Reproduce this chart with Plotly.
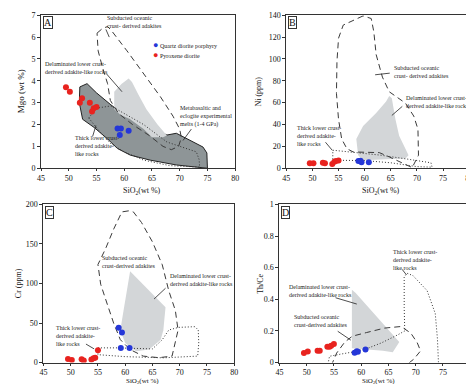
import plotly.graph_objects as go

# ---------------- sample data ----------------
red_sio2 = [49.5, 50.2, 52.0, 52.4, 53.8, 54.2, 54.5, 55.0]
blue_sio2 = [58.8, 59.4, 59.2, 60.8]

red_mgo = [3.7, 3.5, 3.0, 3.2, 3.0, 2.6, 2.75, 2.8]
blue_mgo = [1.82, 1.82, 1.52, 1.71]

red_ni = [4.5, 4.5, 5.0, 4.5, 3.8, 6.0, 6.6, 7.0]
blue_ni = [6.6, 5.4, 6.8, 5.4]

red_cr = [4.5, 3.3, 4.2, 2.5, 4.0, 5.5, 6.0, 15.7]
blue_cr = [44, 38, 18.5, 18.5]

red_thce = [0.06, 0.07, 0.075, 0.075, 0.10, 0.10, 0.107, 0.117]
blue_thce = [0.062, 0.068, 0.072, 0.082]

x_ticks = [45, 50, 55, 60, 65, 70, 75, 80]
mgo_ticks = [0, 1, 2, 3, 4, 5, 6, 7]
ni_ticks = [0, 20, 40, 60, 80, 100, 120, 140]
cr_ticks = [0, 50, 100, 150, 200]
thce_ticks = [0, 0.2, 0.4, 0.6, 0.8, 1]

# ---------------- field outlines ----------------
# Panel A
a_dark_x = [52.0, 53.3, 55.0, 57.6, 60.5, 63.5, 65.9, 67.7, 69.4, 74.2, 74.9, 75.0, 69.4, 64.7, 61.1, 58.8, 57.0, 54.6, 52.5, 51.9, 52.0]
a_dark_y = [3.72, 3.87, 3.45, 2.9, 2.35, 2.0, 1.7, 1.52, 1.6, 0.97, 0.7, 0.0, 0.15, 0.37, 0.6, 0.9, 1.34, 1.86, 2.24, 3.0, 3.72]
a_light_x = [60.8, 61.4, 62.5, 64.0, 66.0, 67.7, 67.0, 65.0, 63.5, 61.0, 59.3, 58.2, 58.2, 59.5, 60.8]
a_light_y = [4.1, 3.95, 3.4, 2.7, 2.0, 1.5, 1.42, 1.42, 1.8, 2.25, 2.45, 2.7, 3.5, 3.85, 4.1]
a_dash_x = [55.1, 56.1, 57.0, 57.6, 60.5, 63.5, 66.5, 68.8, 70.0, 70.3, 69.8, 68.5, 67.0, 64.5, 61.5, 59.0, 57.5, 57.0, 56.1, 55.3, 55.1]
a_dash_y = [6.18, 6.4, 6.48, 6.33, 5.37, 4.32, 3.28, 2.38, 1.79, 1.4, 1.0, 0.85, 1.0, 1.5, 2.0, 2.5, 3.1, 3.87, 4.6, 5.37, 6.18]
a_dot_x = [53.6, 55.0, 57.6, 60.5, 63.5, 67.7, 70.5, 73.0, 73.5, 73.6, 68.2, 63.5, 60.0, 57.6, 55.5, 53.6]
a_dot_y = [2.3, 2.75, 2.85, 2.45, 2.0, 1.2, 0.95, 0.75, 0.4, 0.05, 0.12, 0.37, 0.75, 1.12, 1.7, 2.3]
a_leaders = [([56.7, 57.3], [6.35, 6.0]), ([56.8, 59.6], [4.32, 3.5]),
             ([72.1, 70.6], [1.79, 1.27]), ([54.3, 54.9], [1.45, 1.95])]

# Panel B
b_dash_x = [59.7, 55.9, 55.0, 54.7, 54.6, 55.0, 55.6, 56.6, 57.8, 62.8, 64.7, 66.6, 69.1, 70.3, 70.2, 69.4, 67.8, 64.7, 63.4, 62.2, 61.75, 61.25, 59.7]
b_dash_y = [139.4, 131, 119, 98, 68.5, 44.7, 26.8, 17.9, 14.9, 14.3, 10.4, 6.0, 0.6, 11.9, 35.7, 47.7, 59.6, 70, 83.4, 104, 125, 137, 139.4]
b_light_x = [64.7, 65.2, 65.9, 66.6, 68.4, 67.8, 64.1, 59.7, 58.75, 58.4, 59.7, 62.2, 64.1, 64.7]
b_light_y = [66, 64, 44.7, 29.8, 11.9, 8.9, 8.3, 7.4, 11.9, 26.8, 38.7, 50.6, 61, 66]
b_dot_x = [53.9, 58.5, 63.0, 68.0, 72.7, 72.9, 70.0, 65.0, 60.0, 55.0, 53.9, 53.9]
b_dot_y = [16.5, 14.5, 12.0, 8.5, 5.0, 1.0, 1.5, 5.0, 7.0, 7.3, 7.5, 16.5]
b_leaders = [([62.0, 64.8], [85.5, 87]), ([67.2, 65.2], [56.6, 48.3]), ([52.5, 53.8], [23.8, 16.4])]

# Panel C
c_dash_x = [60.6, 59.4, 57.9, 56.4, 55.0, 55.5, 56.7, 57.9, 59.1, 60.9, 63.3, 66.2, 68.6, 69.2, 69.7, 69.2, 68.0, 66.8, 65.0, 63.0, 61.5, 60.6]
c_dash_y = [191.8, 190.5, 169, 144, 124, 99, 74, 49.5, 29, 16.5, 8.2, 6.2, 8.2, 24.7, 41, 66, 90.7, 123.7, 152.6, 177, 190.5, 191.8]
c_light_x = [60.9, 67.4, 67.0, 66.5, 64.4, 62.0, 60.0, 59.1, 59.7, 60.3, 60.9]
c_light_y = [115.5, 70, 41, 29, 16.5, 14.4, 24.7, 41, 66, 90.7, 115.5]
c_dot_x = [55.0, 58.5, 65.0, 66.8, 68.0, 69.8, 72.8, 73.4, 73.5, 73.3, 67.0, 60.0, 55.0, 55.0]
c_dot_y = [18.6, 18.6, 17.3, 28.9, 41.2, 44.5, 45.4, 41.2, 24.7, 8.2, 6.0, 7.5, 10.0, 18.6]
c_leaders = [([67.4, 65.3], [94, 80.4]), ([52.8, 54.3], [23.4, 17.3])]

# Panel D
d_dash_x = [54.5, 55.5, 57.0, 58.4, 61.0, 64.3, 67.3, 69.1, 70.3, 70.9, 69.7, 68.5]
d_dash_y = [-0.02, 0.06, 0.13, 0.167, 0.19, 0.218, 0.228, 0.187, 0.125, 0.074, 0.023, -0.01]
d_light_x = [58.3, 59.0, 67.0, 65.8, 64.0, 61.0, 58.3, 58.3]
d_light_y = [0.46, 0.44, 0.13, 0.065, 0.075, 0.085, 0.09, 0.46]
d_dot_x = [53.9, 54.2, 56.5, 59.0, 61.4, 63.75, 66.7, 68.0, 67.9, 67.9, 68.4, 69.5, 72.1, 73.6, 74.0, 74.2]
d_dot_y = [-0.01, 0.04, 0.055, 0.07, 0.093, 0.125, 0.175, 0.2, 0.35, 0.54, 0.565, 0.55, 0.455, 0.31, 0.15, -0.01]
d_leaders = [([67.5, 68.3], [0.59, 0.555]), ([55.3, 59.2], [0.41, 0.37]), ([55.7, 58.1], [0.198, 0.142])]

# ---------------- styling ----------------
RED = "#e8231f"
BLUE = "#2537d8"
LIGHT = "#d3d6d8"
DARK = "#8e9597"
LINE = "#3a3a3a"
FONT = "Liberation Serif"

W, H = 474, 384
def px_x(a, b):
    return [a / W, b / W]
def px_y(top, bottom):
    return [1 - bottom / H, 1 - top / H]

panels = {
    "A": dict(ax="", dom_x=px_x(29.5, 227), dom_y=px_y(3.3, 160), yr=[0, 7], ticks=mgo_ticks,
              ytitle="Mgo (wt %)", ytx=-0.105, ysize=9, xty=-0.10, xsize=8),
    "B": dict(ax="2", dom_x=px_x(279, 465), dom_y=px_y(3.3, 160), yr=[0, 140], ticks=ni_ticks,
              ytitle="Ni (ppm)", ytx=-0.15, ysize=8, xty=-0.10, xsize=8),
    "C": dict(ax="3", dom_x=px_x(32, 226), dom_y=px_y(197, 359), yr=[0, 200], ticks=cr_ticks,
              ytitle="Cr (ppm)", ytx=-0.13, ysize=8, xty=-0.08, xsize=7),
    "D": dict(ax="4", dom_x=px_x(272, 466), dom_y=px_y(197, 359), yr=[0, 1], ticks=thce_ticks,
              ytitle="Th/Ce", ytx=-0.1, ysize=8, xty=-0.08, xsize=7),
}

fig = go.Figure()

def poly(ax, xs, ys, fill=None, dash=None, line_color=LINE, width=1, show_line=True):
    fig.add_trace(go.Scatter(
        x=xs, y=ys, xaxis="x" + ax, yaxis="y" + ax, mode="lines",
        fill="toself" if fill else None, fillcolor=fill,
        line=dict(color=line_color if show_line else "rgba(0,0,0,0)", width=width, dash=dash),
        hoverinfo="skip", showlegend=False))

def points(ax, ys_red, ys_blue):
    fig.add_trace(go.Scatter(x=red_sio2, y=ys_red, xaxis="x" + ax, yaxis="y" + ax, mode="markers",
                             marker=dict(color=RED, size=6), showlegend=False))
    fig.add_trace(go.Scatter(x=blue_sio2, y=ys_blue, xaxis="x" + ax, yaxis="y" + ax, mode="markers",
                             marker=dict(color=BLUE, size=6), showlegend=False))

def leaders(ax, segs):
    for xs, ys in segs:
        fig.add_trace(go.Scatter(x=xs, y=ys, xaxis="x" + ax, yaxis="y" + ax, mode="lines",
                                 line=dict(color="#222", width=0.8), hoverinfo="skip", showlegend=False))

DASH = "6px,4px"
DOT = "1px,2px"

# Panel A
poly("", a_dark_x, a_dark_y, fill=DARK, line_color="#222", width=1)
poly("", a_light_x, a_light_y, fill=LIGHT, show_line=False)
poly("", a_dash_x, a_dash_y, dash=DASH)
poly("", a_dot_x, a_dot_y, dash=DOT, line_color="#333")
leaders("", a_leaders)
points("", red_mgo, blue_mgo)

# Panel B
poly("2", b_light_x, b_light_y, fill=LIGHT, show_line=False)
poly("2", b_dash_x, b_dash_y, dash=DASH)
poly("2", b_dot_x, b_dot_y, dash=DOT, line_color="#333")
leaders("2", b_leaders)
points("2", red_ni, blue_ni)

# Panel C
poly("3", c_light_x, c_light_y, fill=LIGHT, show_line=False)
poly("3", c_dash_x, c_dash_y, dash=DASH)
poly("3", c_dot_x, c_dot_y, dash=DOT, line_color="#333")
leaders("3", c_leaders)
points("3", red_cr, blue_cr)

# Panel D
poly("4", d_light_x, d_light_y, fill=LIGHT, show_line=False)
poly("4", d_dash_x, d_dash_y, dash=DASH)
poly("4", d_dot_x, d_dot_y, dash=DOT, line_color="#333")
leaders("4", d_leaders)
points("4", red_thce, blue_thce)

layout = dict(
    width=W, height=H, margin=dict(l=0, r=0, t=0, b=0),
    paper_bgcolor="white", plot_bgcolor="white", showlegend=False,
    font=dict(family=FONT, color="#111", size=7),
)
annotations = []
for label, p in panels.items():
    ax = p["ax"]
    layout["xaxis" + ax] = dict(
        domain=p["dom_x"], range=[45, 80], tickvals=x_ticks,
        showgrid=False, zeroline=False, showline=True, mirror=True, linecolor="#333", linewidth=1,
        ticks="outside", ticklen=2, tickcolor="#333", tickfont=dict(family=FONT, size=8),
        anchor="y" + ax, fixedrange=True)
    layout["yaxis" + ax] = dict(
        domain=p["dom_y"], range=p["yr"], tickvals=p["ticks"],
        ticktext=[("%g" % t) for t in p["ticks"]],
        showgrid=False, zeroline=False, showline=True, mirror=True, linecolor="#333", linewidth=1,
        ticks="outside", ticklen=3, tickcolor="#333", tickfont=dict(family=FONT, size=8),
        anchor="x" + ax, fixedrange=True)
    xr = "x" + ax + " domain" if ax else "x domain"
    yr = "y" + ax + " domain" if ax else "y domain"
    annotations.append(dict(text=label, xref=xr, yref=yr, x=0.008, y=0.992, xanchor="left", yanchor="top",
                            showarrow=False, font=dict(family=FONT, size=10, color="#111"),
                            bordercolor="#333", borderwidth=1, borderpad=0, bgcolor="white"))
    annotations.append(dict(text="SiO<sub>2</sub>(wt %)", xref=xr, yref=yr, x=0.52, y=p["xty"],
                            xanchor="center", yanchor="top", showarrow=False,
                            font=dict(family=FONT, size=p["xsize"])))
    annotations.append(dict(text=p["ytitle"], xref=xr, yref=yr, x=p["ytx"], y=0.5, textangle=-90,
                            xanchor="center", yanchor="middle", showarrow=False,
                            font=dict(family=FONT, size=p["ysize"])))

def note(ax, text, x, y):
    annotations.append(dict(text=text, xref="x" + ax, yref="y" + ax, x=x, y=y, xanchor="left",
                            yanchor="middle", align="left", showarrow=False,
                            font=dict(family=FONT, size=6, color="#222")))

note("", "Subducted oceanic<br>crust- derived adakites", 56.6, 6.7)
note("", "Delaminated lower crust-<br>derived adakite-like rocks", 45.4, 4.59)
note("", "Metabasaltic and<br>eclogite experimental<br>melts (1-4 GPa)", 69.7, 2.38)
note("", "Thick lower crust-<br>derived adakite-<br>like rocks", 50.75, 1.0)
note("", "<span style='color:%s;font-size:9px'>●</span> Quartz diorite porphyry" % BLUE, 64.9, 5.62)
note("", "<span style='color:%s;font-size:9px'>●</span> Pyroxene diorite" % RED, 64.9, 5.19)

note("2", "Subducted oceanic<br>crust- derived adakites", 65.3, 88.5)
note("2", "Delaminated lower crust-<br>derived adakite-like rocks", 67.6, 61)
note("2", "Thick lower crust-<br>derived adakite-<br>like rocks", 46.7, 29.8)

note("3", "Subducted oceanic<br>crust-derived adakites", 55.35, 127)
note("3", "Delaminated lower crust-<br>derived adakite-like rocks", 67.9, 105)
note("3", "Thick lower crust-<br>derived adakite-<br>like rocks", 46.9, 33)

note("4", "Thick lower crust-<br>derived adakite-<br>like rocks", 65.5, 0.65)
note("4", "Delaminated lower crust-<br>derived adakite-like rocks", 46.4, 0.455)
note("4", "Subducted oceanic<br>crust-derived adakites", 47.4, 0.265)

layout["annotations"] = annotations
fig.update_layout(**layout)
fig.write_html("out.html")
